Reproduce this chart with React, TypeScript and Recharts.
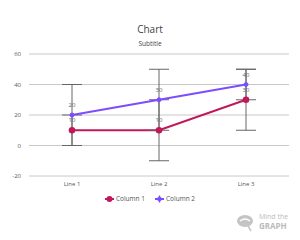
import React from 'react';
import { LineChart, Line, XAxis, YAxis, CartesianGrid, ErrorBar, LabelList, Legend } from 'recharts';

const categories = ['Line 1', 'Line 2', 'Line 3'];
const column1 = [10, 10, 30];
const column1Err = [10, 20, 20];
const column2 = [20, 30, 40];
const column2Err = [20, 20, 10];
const yTicks = [-20, 0, 20, 40, 60];

const data = categories.map((name, i) => ({
  name,
  c1: column1[i],
  e1: column1Err[i],
  c2: column2[i],
  e2: column2Err[i],
}));

const C1 = '#c2185b';
const C2 = '#7c4dff';
const FONT = '"Open Sans", "Noto Sans", sans-serif';

const LegendContent = () => (
  <div style={{ display: 'flex', justifyContent: 'center', alignItems: 'center', fontFamily: FONT, fontSize: 6.5, color: '#555' }}>
    <svg width={9} height={8} style={{ marginRight: 2 }}>
      <line x1={0} y1={4} x2={9} y2={4} stroke={C1} strokeWidth={2} />
      <circle cx={4.5} cy={4} r={3} fill={C1} />
    </svg>
    <span style={{ marginRight: 10 }}>Column 1</span>
    <svg width={9} height={8} style={{ marginRight: 2 }}>
      <line x1={0} y1={4} x2={9} y2={4} stroke={C2} strokeWidth={2} />
      <circle cx={4.5} cy={4} r={2.2} fill={C2} />
      <line x1={4.5} y1={0.5} x2={4.5} y2={7.5} stroke={C2} strokeWidth={1.5} />
    </svg>
    <span>Column 2</span>
  </div>
);

export default function App() {
  return (
    <div style={{ position: 'absolute', left: 0, top: 0, width: 300, height: 240, background: '#fff', fontFamily: FONT }}>
      <div style={{ position: 'absolute', left: 0, top: 22, width: 300, textAlign: 'center', fontSize: 10, color: '#444' }}>Chart</div>
      <div style={{ position: 'absolute', left: 0, top: 39, width: 300, textAlign: 'center', fontSize: 6.5, color: '#444' }}>Subtitle</div>
      <LineChart width={300} height={240} data={data} margin={{ top: 54, right: 11, bottom: 44, left: 0 }}>
        <CartesianGrid vertical={false} stroke="#c8c8c8" />
        <XAxis
          dataKey="name"
          padding={{ left: 43, right: 43 }}
          axisLine={false}
          tickLine={false}
          height={20}
          tick={{ fontSize: 6, fill: '#555', fontFamily: FONT, dy: -2 }}
        />
        <YAxis
          domain={[-20, 60]}
          ticks={yTicks}
          width={29}
          axisLine={false}
          tickLine={false}
          tick={{ fontSize: 6, fill: '#555', fontFamily: FONT }}
        />
        <Legend layout="horizontal" verticalAlign="middle" align="center" content={<LegendContent />}
          wrapperStyle={{ position: 'absolute', top: 194, left: 0, width: 300 }} />
        <Line dataKey="c1" name="Column 1" stroke={C1} strokeWidth={2} isAnimationActive={false}
          dot={{ r: 3.3, fill: C1, stroke: 'none' }}>
          <ErrorBar dataKey="e1" width={10} stroke="#666" strokeWidth={1} />
          <LabelList dataKey="c1" position="top" offset={8} style={{ fontSize: 6, fill: '#666', fontFamily: FONT }} />
        </Line>
        <Line dataKey="c2" name="Column 2" stroke={C2} strokeWidth={2} isAnimationActive={false}
          dot={{ r: 2, fill: C2, stroke: C2, strokeWidth: 1 }}>
          <ErrorBar dataKey="e2" width={10} stroke="#666" strokeWidth={1} />
          <LabelList dataKey="c2" position="top" offset={8} style={{ fontSize: 6, fill: '#666', fontFamily: FONT }} />
        </Line>
      </LineChart>
      <div style={{ position: 'absolute', left: 236, top: 212, width: 60, height: 22, color: '#bbb' }}>
        <svg width={20} height={20} style={{ position: 'absolute', left: 0, top: 1 }}>
          <ellipse cx={9} cy={8} rx={8} ry={6} fill="#c4c4c4" />
          <path d="M4 8 Q9 4 14 8" stroke="#fff" strokeWidth={1.5} fill="none" />
          <line x1={12} y1={13} x2={15} y2={18} stroke="#c4c4c4" strokeWidth={1.5} />
        </svg>
        <div style={{ position: 'absolute', left: 23, top: 1, fontSize: 7, lineHeight: '8px' }}>Mind the</div>
        <div style={{ position: 'absolute', left: 23, top: 9, fontSize: 8, lineHeight: '9px', fontWeight: 700 }}>GRAPH</div>
      </div>
    </div>
  );
}
